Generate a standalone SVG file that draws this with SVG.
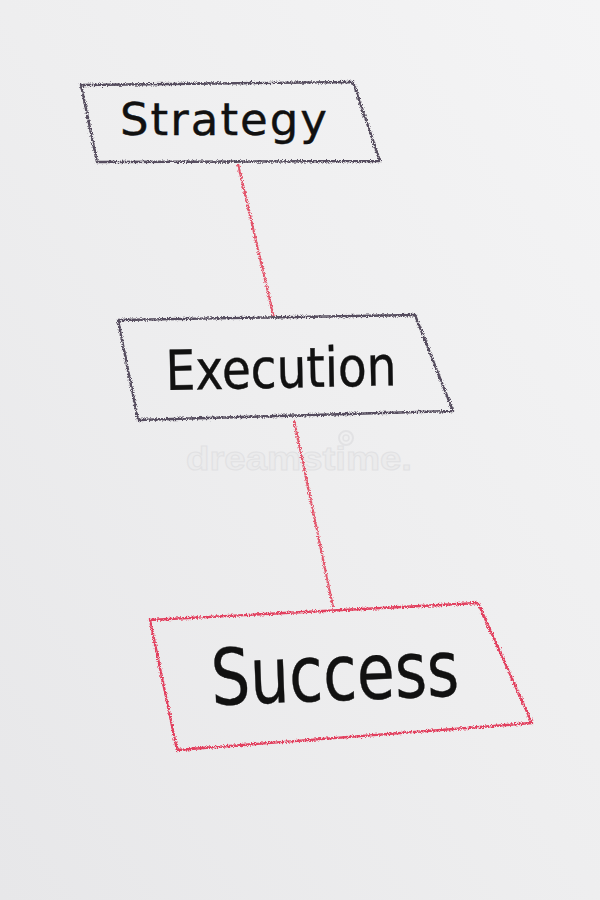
<svg xmlns="http://www.w3.org/2000/svg" width="600" height="900" viewBox="0 0 600 900">
  <defs>
    <linearGradient id="bg" x1="1" y1="0" x2="0" y2="1">
      <stop offset="0" stop-color="#f4f4f5"/>
      <stop offset="0.5" stop-color="#eeeeef"/>
      <stop offset="1" stop-color="#e7e7e9"/>
    </linearGradient>
    <filter id="pencil" x="-10%" y="-10%" width="120%" height="120%">
      <feTurbulence type="fractalNoise" baseFrequency="1.2" numOctaves="2" seed="3" result="n"/>
      <feDisplacementMap in="SourceGraphic" in2="n" scale="4.5" xChannelSelector="R" yChannelSelector="G"/>
    </filter>
    <style>
      .box-dark { fill: none; stroke: #564e5e; stroke-width: 2.4; stroke-linejoin: round; filter: url(#pencil); }
      .box-red { fill: none; stroke: #e2405e; stroke-width: 2.4; stroke-linejoin: round; filter: url(#pencil); }
      .conn { stroke: #e3566c; stroke-width: 2.2; fill: none; filter: url(#pencil); }
      .label { font-family: "DejaVu Sans", "Open Sans", sans-serif; fill: #111111; stroke: #111111; stroke-width: 0.4; }
      .wm { font-family: "Liberation Sans", Arial, sans-serif; font-weight: bold; fill: #ebebec; stroke: #e1e1e3; stroke-width: 1; }
    </style>
  </defs>
  <rect x="0" y="0" width="600" height="900" fill="url(#bg)"/>

  <g id="watermark">
    <circle cx="346" cy="438" r="7" fill="none" stroke="#e2e2e4" stroke-width="2"/>
    <circle cx="346" cy="438" r="3" fill="none" stroke="#e2e2e4" stroke-width="1.5"/>
    <text class="wm" x="186" y="470" font-size="34" textLength="226" lengthAdjust="spacingAndGlyphs">dreamstime.</text>
  </g>

  <g id="connectors">
    <path class="conn" d="M238,164 L274,318"/>
    <path class="conn" d="M294,420 L333,607"/>
  </g>

  <g id="strategy">
    <polygon class="box-dark" points="81,85 353,82 380,161 97,162"/>
    <text class="label" x="120" y="135" font-size="45" textLength="207" lengthAdjust="spacing">Strategy</text>
  </g>

  <g id="execution">
    <polygon class="box-dark" points="118,320 415,315 453,411 138,420"/>
    <text class="label" x="166" y="390" font-size="55" textLength="231" lengthAdjust="spacingAndGlyphs" transform="rotate(-1.2 166 390)">Execution</text>
  </g>

  <g id="success">
    <polygon class="box-red" points="150,620 478,603 532,723 177,750"/>
    <text class="label" x="212" y="705" font-size="78" textLength="248" lengthAdjust="spacingAndGlyphs" transform="rotate(-2.2 212 705)">Success</text>
  </g>
</svg>
